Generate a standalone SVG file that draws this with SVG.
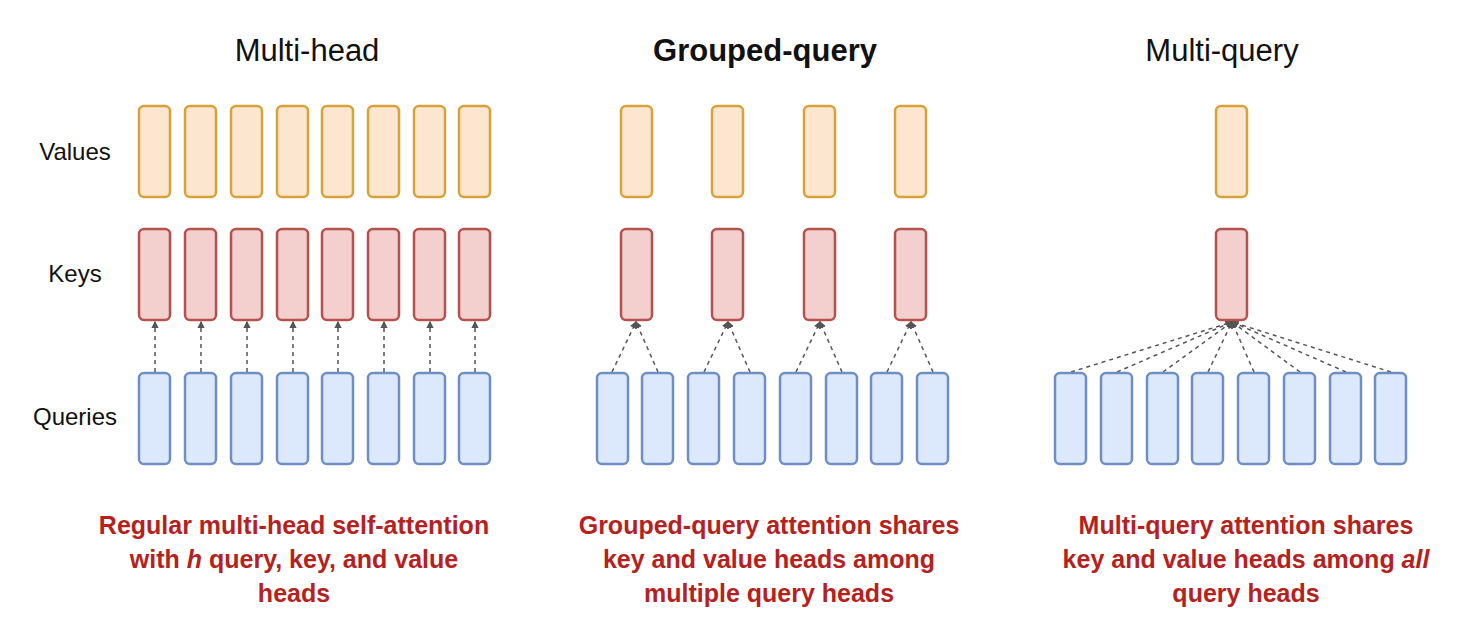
<svg xmlns="http://www.w3.org/2000/svg" width="1480" height="634" viewBox="0 0 1480 634">
<style>
.v{fill:#fce6cf;stroke:#d6a23a;stroke-width:2.5}
.k{fill:#f3cfce;stroke:#b5524d;stroke-width:2.5}
.q{fill:#dce8fb;stroke:#6f8fc4;stroke-width:2.5}
.t{font-family:"Liberation Sans",Arial,sans-serif;font-size:31px;fill:#111;text-anchor:middle}
.r{font-family:"Liberation Sans",Arial,sans-serif;font-size:24px;fill:#111;text-anchor:middle}
.c{font-family:"Liberation Sans",Arial,sans-serif;font-size:25px;font-weight:bold;fill:#b5221e;text-anchor:middle}
.l{stroke:#555;stroke-width:1.5;stroke-dasharray:4 4;fill:none}
</style>
<defs>
<rect id="b" width="31" height="91" rx="5"/>
<marker id="a" viewBox="0 0 6 6" refX="5" refY="3" markerWidth="5" markerHeight="5" orient="auto"><path d="M0 0L6 3L0 6z" fill="#555"/></marker>
</defs>
<text class="t" x="307" y="61">Multi-head</text>
<text class="t" x="765" y="61" font-weight="bold">Grouped-query</text>
<text class="t" x="1222" y="61">Multi-query</text>
<text class="r" x="75" y="160">Values</text>
<text class="r" x="75" y="282">Keys</text>
<text class="r" x="75" y="425">Queries</text>
<g id="connectors">
<line class="l" marker-end="url(#a)" x1="155" y1="372" x2="155" y2="322"/>
<line class="l" marker-end="url(#a)" x1="201" y1="372" x2="201" y2="322"/>
<line class="l" marker-end="url(#a)" x1="247" y1="372" x2="247" y2="322"/>
<line class="l" marker-end="url(#a)" x1="293" y1="372" x2="293" y2="322"/>
<line class="l" marker-end="url(#a)" x1="338" y1="372" x2="338" y2="322"/>
<line class="l" marker-end="url(#a)" x1="384" y1="372" x2="384" y2="322"/>
<line class="l" marker-end="url(#a)" x1="430" y1="372" x2="430" y2="322"/>
<line class="l" marker-end="url(#a)" x1="475" y1="372" x2="475" y2="322"/>
<line class="l" marker-end="url(#a)" x1="612" y1="372" x2="636" y2="322"/>
<line class="l" marker-end="url(#a)" x1="658" y1="372" x2="636" y2="322"/>
<line class="l" marker-end="url(#a)" x1="704" y1="372" x2="728" y2="322"/>
<line class="l" marker-end="url(#a)" x1="750" y1="372" x2="728" y2="322"/>
<line class="l" marker-end="url(#a)" x1="796" y1="372" x2="820" y2="322"/>
<line class="l" marker-end="url(#a)" x1="842" y1="372" x2="820" y2="322"/>
<line class="l" marker-end="url(#a)" x1="887" y1="372" x2="911" y2="322"/>
<line class="l" marker-end="url(#a)" x1="933" y1="372" x2="911" y2="322"/>
<line class="l" marker-end="url(#a)" x1="1071" y1="372" x2="1232" y2="322"/>
<line class="l" marker-end="url(#a)" x1="1117" y1="372" x2="1232" y2="322"/>
<line class="l" marker-end="url(#a)" x1="1163" y1="372" x2="1232" y2="322"/>
<line class="l" marker-end="url(#a)" x1="1208" y1="372" x2="1232" y2="322"/>
<line class="l" marker-end="url(#a)" x1="1254" y1="372" x2="1232" y2="322"/>
<line class="l" marker-end="url(#a)" x1="1300" y1="372" x2="1232" y2="322"/>
<line class="l" marker-end="url(#a)" x1="1346" y1="372" x2="1232" y2="322"/>
<line class="l" marker-end="url(#a)" x1="1391" y1="372" x2="1232" y2="322"/>
</g>
<g id="multihead">
<use href="#b" class="v" x="139" y="106"/><use href="#b" class="v" x="185" y="106"/><use href="#b" class="v" x="231" y="106"/><use href="#b" class="v" x="277" y="106"/><use href="#b" class="v" x="322" y="106"/><use href="#b" class="v" x="368" y="106"/><use href="#b" class="v" x="414" y="106"/><use href="#b" class="v" x="459" y="106"/>
<use href="#b" class="k" x="139" y="229"/><use href="#b" class="k" x="185" y="229"/><use href="#b" class="k" x="231" y="229"/><use href="#b" class="k" x="277" y="229"/><use href="#b" class="k" x="322" y="229"/><use href="#b" class="k" x="368" y="229"/><use href="#b" class="k" x="414" y="229"/><use href="#b" class="k" x="459" y="229"/>
<use href="#b" class="q" x="139" y="373"/><use href="#b" class="q" x="185" y="373"/><use href="#b" class="q" x="231" y="373"/><use href="#b" class="q" x="277" y="373"/><use href="#b" class="q" x="322" y="373"/><use href="#b" class="q" x="368" y="373"/><use href="#b" class="q" x="414" y="373"/><use href="#b" class="q" x="459" y="373"/>
</g>
<g id="grouped">
<use href="#b" class="v" x="621" y="106"/><use href="#b" class="v" x="712" y="106"/><use href="#b" class="v" x="804" y="106"/><use href="#b" class="v" x="895" y="106"/>
<use href="#b" class="k" x="621" y="229"/><use href="#b" class="k" x="712" y="229"/><use href="#b" class="k" x="804" y="229"/><use href="#b" class="k" x="895" y="229"/>
<use href="#b" class="q" x="597" y="373"/><use href="#b" class="q" x="642" y="373"/><use href="#b" class="q" x="688" y="373"/><use href="#b" class="q" x="734" y="373"/><use href="#b" class="q" x="780" y="373"/><use href="#b" class="q" x="826" y="373"/><use href="#b" class="q" x="871" y="373"/><use href="#b" class="q" x="917" y="373"/>
</g>
<g id="multiquery">
<use href="#b" class="v" x="1216" y="106"/>
<use href="#b" class="k" x="1216" y="229"/>
<use href="#b" class="q" x="1055" y="373"/><use href="#b" class="q" x="1101" y="373"/><use href="#b" class="q" x="1147" y="373"/><use href="#b" class="q" x="1192" y="373"/><use href="#b" class="q" x="1238" y="373"/><use href="#b" class="q" x="1284" y="373"/><use href="#b" class="q" x="1330" y="373"/><use href="#b" class="q" x="1375" y="373"/>
</g>
<text class="c" x="294" y="534">Regular multi-head self-attention</text>
<text class="c" x="294" y="568">with <tspan font-style="italic">h</tspan> query, key, and value</text>
<text class="c" x="294" y="602">heads</text>
<text class="c" x="769" y="534">Grouped-query attention shares</text>
<text class="c" x="769" y="568">key and value heads among</text>
<text class="c" x="769" y="602">multiple query heads</text>
<text class="c" x="1246" y="534">Multi-query attention shares</text>
<text class="c" x="1246" y="568">key and value heads among <tspan font-style="italic">all</tspan></text>
<text class="c" x="1246" y="602">query heads</text>
</svg>
